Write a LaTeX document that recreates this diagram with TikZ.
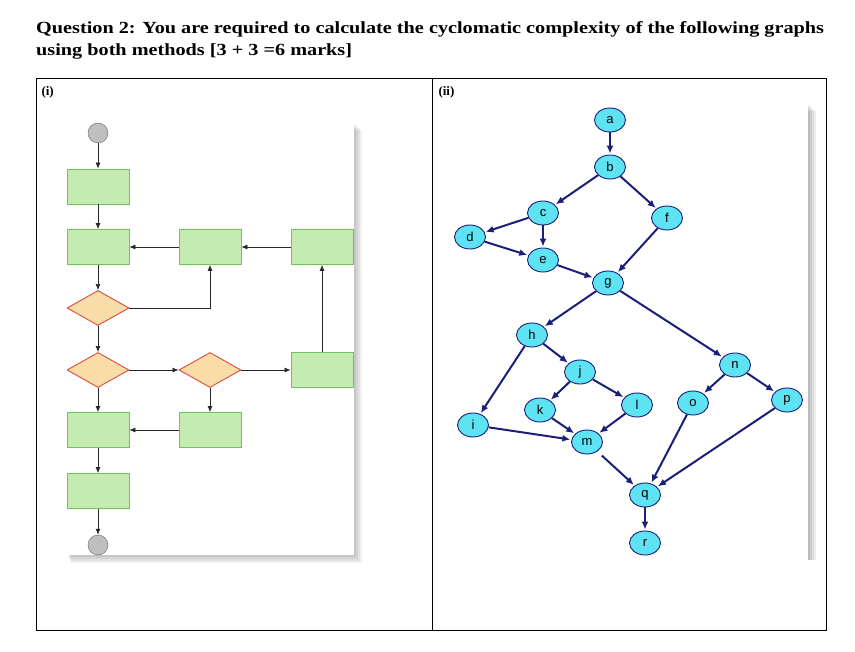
\documentclass[tikz,border=0pt]{standalone}
\usepackage{fontspec}
\setmainfont{Liberation Serif}
\newfontfamily\nodefont{Liberation Sans}
\usetikzlibrary{shapes.geometric,arrows.meta,patterns}
\definecolor{navy}{HTML}{1B1F7A}
\definecolor{cyanf}{HTML}{5EE3F2}
\definecolor{boxg}{HTML}{C4EBB0}
\definecolor{boxe}{HTML}{6CC55A}
\definecolor{diaf}{HTML}{F9DDA8}
\definecolor{diae}{HTML}{E04A3A}
\tikzset{
 gbox/.style={draw=boxe,fill=boxg,minimum width=62pt,minimum height=35pt,inner sep=0pt,line width=0.8pt},
 dia/.style={diamond,draw=diae,fill=diaf,aspect=1.8,minimum width=62pt,minimum height=35pt,inner sep=0pt,line width=0.9pt},
 term/.style={circle,draw=black!60,fill=black!25,minimum size=20pt,inner sep=0pt},
 fl/.style={-{Latex[length=6pt,width=5pt]},black!85,line width=0.7pt},
 gn/.style={ellipse,draw=navy,fill=cyanf,minimum width=31pt,minimum height=24pt,inner sep=0pt,line width=0.9pt,font=\nodefont\fontsize{13}{13}\selectfont},
 ga/.style={-{Latex[length=8pt,width=7pt]},navy,line width=2pt,shorten >=1pt},
 ttl/.style={anchor=west,font=\bfseries\fontsize{17}{17}\selectfont,transform shape,xscale=1.19,inner sep=0pt},
}
\begin{document}
\begin{tikzpicture}[x=1pt,y=-1pt]
\useasboundingbox (0,0) rectangle (855,652);
\fill[white] (0,0) rectangle (855,652);
\node[ttl] (t1) at (36,29) {Question 2: You are required to calculate the cyclomatic complexity of the following graphs};
\node[ttl] (t2) at (36,51) {using both methods [3 + 3 =6 marks]};
\draw[line width=0.8pt] (36,78) rectangle (826,630);
\draw[line width=0.8pt] (432,78) -- (432,630);
\node[anchor=west,font=\bfseries\fontsize{13}{13}\selectfont] (l1) at (38,92) {(i)};
\node[anchor=west,font=\bfseries\fontsize{13}{13}\selectfont] (l2) at (435,92) {(ii)};
% left panel
\foreach \s in {8,6,4,2} \fill[black,opacity=0.06] (67+\s*0.5,122+\s) rectangle (354+\s,555+\s);
\fill[white] (67,122) rectangle (354,555);
\begin{scope}
\clip (67,122) rectangle (354,555);
\node[term] (s) at (98,133) {};
\node[term] (en) at (98,545) {};
\node[gbox] (b1) at (98,186.5) {};
\node[gbox] (b2) at (98,247) {};
\node[gbox] (b3) at (210,247) {};
\node[gbox] (b4) at (322,247) {};
\node[dia] (d1) at (98,308) {};
\node[dia] (d2) at (98,370) {};
\node[dia] (d3) at (210,370) {};
\node[gbox] (b5) at (322,370) {};
\node[gbox] (b6) at (98,430) {};
\node[gbox] (b7) at (210,430) {};
\node[gbox] (b8) at (98,491) {};
\draw[fl] (s) -- (b1);
\draw[fl] (b1) -- (b2);
\draw[fl] (b3) -- (b2);
\draw[fl] (b4) -- (b3);
\draw[fl] (b2) -- (d1);
\draw[fl] (d1.east) -| (b3.south);
\draw[fl] (d1) -- (d2);
\draw[fl] (d2) -- (d3);
\draw[fl] (d3) -- (b5);
\draw[fl] (b5) -- (b4);
\draw[fl] (d2) -- (b6);
\draw[fl] (d3) -- (b7);
\draw[fl] (b7) -- (b6);
\draw[fl] (b6) -- (b8);
\draw[fl] (b8) -- (en);
\end{scope}
% right panel
\foreach \s in {8,6,4,2} \fill[black,opacity=0.07] (808,103+\s) rectangle (808+\s,560);
\fill[white] (452,103) rectangle (808,560);
\node[gn] (a) at (610,120) {a};
\node[gn] (b) at (610,167) {b};
\node[gn] (c) at (543,213) {c};
\node[gn] (f) at (667,218) {f};
\node[gn] (d) at (470,237) {d};
\node[gn] (e) at (543,260) {e};
\node[gn] (g) at (608,283) {g};
\node[gn] (h) at (532,335) {h};
\node[gn] (n) at (735,365) {n};
\node[gn] (j) at (580,372) {j};
\node[gn] (k) at (540,410) {k};
\node[gn] (l) at (637,405) {l};
\node[gn] (o) at (693,403) {o};
\node[gn] (p) at (787,400) {p};
\node[gn] (i) at (473,425) {i};
\node[gn] (m) at (587,442) {m};
\node[gn] (q) at (645,495) {q};
\node[gn] (r) at (645,543) {r};
\draw[ga] (a) -- (b);
\draw[ga] (b) -- (c);
\draw[ga] (b) -- (f);
\draw[ga] (c) -- (d);
\draw[ga] (c) -- (e);
\draw[ga] (d) -- (e);
\draw[ga] (e) -- (g);
\draw[ga] (f) -- (g);
\draw[ga] (g) -- (h);
\draw[ga] (g) -- (n);
\draw[ga] (h) -- (j);
\draw[ga] (h) -- (i);
\draw[ga] (j) -- (k);
\draw[ga] (j) -- (l);
\draw[ga] (k) -- (m);
\draw[ga] (l) -- (m);
\draw[ga] (i) -- (m);
\draw[ga] (n) -- (o);
\draw[ga] (n) -- (p);
\draw[ga,shorten <=6pt] (m) -- (q);
\draw[ga] (o) -- (q);
\draw[ga] (p) -- (q);
\draw[ga] (q) -- (r);
\end{tikzpicture}
\end{document}
